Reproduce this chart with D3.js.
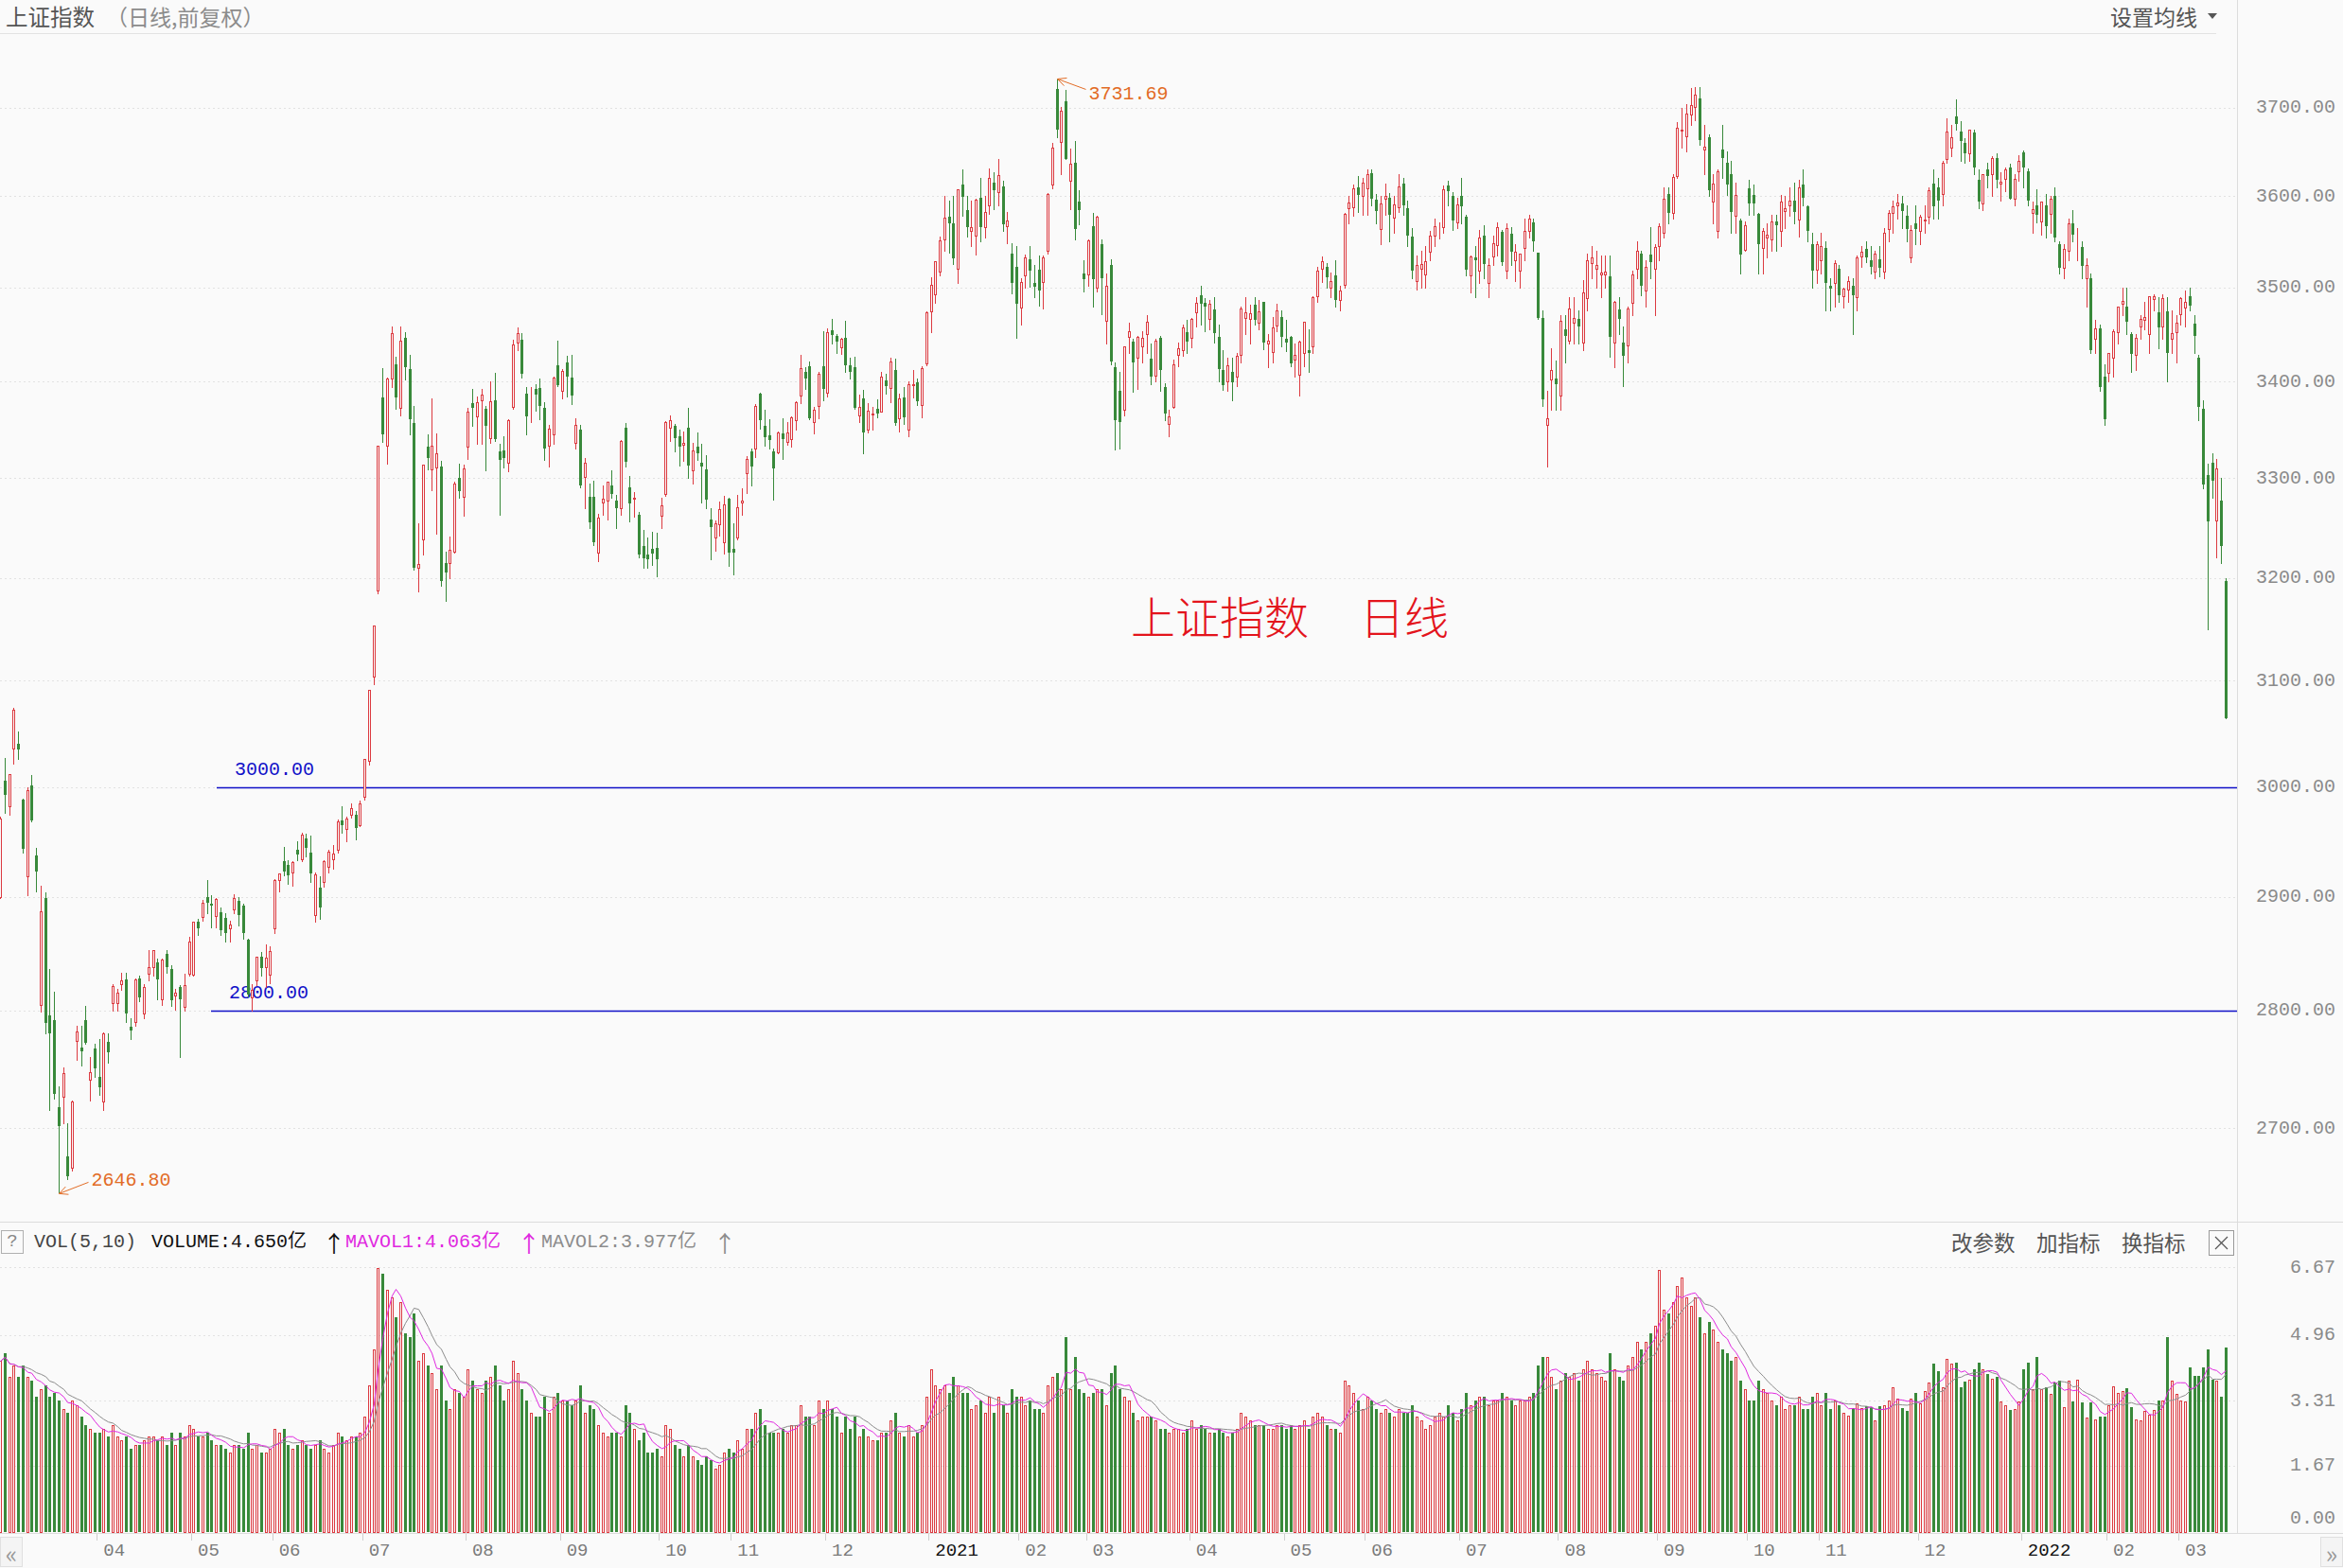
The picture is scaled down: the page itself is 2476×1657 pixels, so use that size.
<!DOCTYPE html>
<html>
<head>
<meta charset="utf-8">
<script src="https://cdn.jsdelivr.net/npm/d3@7"></script>
<style>
  html, body { margin: 0; padding: 0; background: #fafafa; }
  svg { display: block; }
</style>
</head>
<body>
<svg id="chart" width="2476" height="1657"></svg>
<script>
// ---- data: 上证指数 daily candles [open, high, low, close], 2020-03-02 .. 2022-03-15
const monthLabels = ['03','04','05','06','07','08','09','10','11','12','2021','02','03','04','05','06','07','08','09','10','11','12','2022','02','03'];
const monthDays   = [22,21,18,20,23,21,22,16,21,23,20,15,23,21,18,21,22,22,20,16,22,23,19,16,11];

const k2020 = [
  [2900,2973,2899,2971],[3006,3027,2976,2993],[2982,3012,2974,3012],[3036,3074,3022,3072],[3040,3052,3026,3035],
  [2988,2989,2940,2943],[2918,3000,2901,2997],[3001,3011,2968,2969],[2937,2944,2905,2923],[2805,2910,2799,2887],
  [2899,2904,2780,2789],[2796,2836,2715,2780],[2792,2816,2725,2729],[2718,2735,2646.80,2702],[2726,2751,2704,2746],
  [2677,2704,2658,2660],[2667,2723,2665,2722],[2774,2787,2758,2782],[2768,2787,2753,2765],[2792,2804,2771,2772],
  [2741,2760,2723,2747],[2767,2771,2743,2750],
  [2743,2775,2728,2734],[2722,2781,2715,2780],[2773,2780,2755,2764],[2806,2823,2800,2821],[2806,2819,2800,2815],
  [2823,2833,2818,2826],[2827,2833,2790,2797],[2786,2793,2775,2783],[2790,2828,2787,2827],[2828,2830,2808,2811],
  [2797,2823,2793,2820],[2832,2853,2826,2838],[2838,2853,2830,2853],[2842,2845,2810,2827],[2810,2845,2805,2844],
  [2849,2853,2833,2838],[2836,2839,2804,2809],[2813,2819,2801,2815],[2820,2822,2760,2810],[2803,2832,2800,2822],
  [2832,2864,2830,2860],
  [2831,2878,2830,2878],[2878,2880,2866,2872],[2882,2897,2879,2895],[2900,2915,2885,2895],[2894,2901,2873,2892],
  [2883,2899,2873,2898],[2886,2890,2866,2870],[2881,2885,2860,2868],[2872,2879,2860,2875],[2889,2902,2885,2899],
  [2896,2900,2874,2884],[2892,2894,2863,2868],[2862,2863,2812,2814],[2811,2823,2800,2818],[2826,2847,2822,2847],
  [2847,2851,2830,2837],[2838,2858,2820,2846],[2831,2856,2824,2852],
  [2872,2916,2868,2915],[2915,2921,2905,2921],[2932,2945,2919,2923],[2929,2933,2912,2919],[2922,2932,2910,2931],
  [2942,2950,2933,2938],[2934,2958,2932,2956],[2953,2957,2936,2944],[2940,2955,2913,2921],[2884,2922,2878,2920],
  [2908,2918,2880,2890],[2913,2933,2909,2932],[2927,2942,2922,2941],[2934,2947,2925,2939],[2942,2970,2940,2968],
  [2969,2982,2958,2965],[2961,2973,2950,2971],[2974,2985,2972,2980],[2974,2978,2952,2962],[2965,2987,2964,2985],
  [2991,3026,2988,3026],[3024,3091,3021,3091],[3104,3153,3097,3153],[3188,3333,3185,3333],[3383,3414,3337,3345],
  [3333,3404,3315,3403],[3403,3458,3394,3451],[3418,3426,3371,3383],[3372,3458,3365,3443],[3446,3452,3402,3415],
  [3413,3428,3345,3361],[3357,3374,3208,3210],[3210,3254,3187,3214],[3238,3314,3223,3314],[3332,3345,3309,3321],
  [3309,3382,3288,3333],[3311,3346,3244,3325],[3312,3318,3192,3197],[3215,3226,3177,3205],[3215,3241,3200,3228],
  [3226,3296,3225,3295],[3300,3315,3280,3287],[3281,3314,3262,3310],
  [3332,3372,3320,3368],[3377,3392,3354,3372],[3364,3384,3335,3378],[3380,3392,3335,3386],[3371,3374,3308,3354],
  [3341,3400,3336,3379],[3380,3409,3338,3340],[3327,3335,3263,3319],[3328,3343,3311,3321],[3316,3361,3307,3360],
  [3373,3444,3371,3439],[3441,3457,3433,3451],[3444,3451,3404,3408],[3387,3394,3345,3364],[3381,3394,3358,3381],
  [3392,3397,3369,3386],[3393,3403,3361,3374],[3372,3378,3319,3330],[3333,3355,3312,3351],[3345,3405,3335,3404],
  [3417,3443,3395,3396],
  [3390,3413,3382,3411],[3420,3427,3384,3405],[3404,3428,3376,3385],[3336,3362,3330,3355],[3350,3355,3291,3293],
  [3301,3321,3270,3316],[3281,3295,3250,3255],[3281,3297,3233,3235],[3225,3264,3217,3260],[3275,3293,3263,3279],
  [3277,3296,3258,3296],[3293,3308,3280,3284],[3277,3283,3250,3270],[3270,3339,3263,3338],[3352,3357,3312,3317],
  [3291,3302,3256,3274],[3279,3286,3261,3280],[3263,3266,3220,3223],[3232,3248,3210,3219],[3223,3240,3210,3218],
  [3229,3246,3213,3224],[3230,3245,3202,3218],
  [3262,3280,3250,3272],[3284,3359,3282,3358],[3352,3365,3338,3360],[3354,3356,3327,3341],[3343,3350,3313,3332],
  [3334,3348,3318,3336],[3352,3372,3300,3313],[3308,3336,3295,3328],[3332,3347,3319,3325],[3316,3335,3275,3312],
  [3309,3324,3270,3278],[3258,3270,3218,3251],[3240,3257,3227,3254],[3253,3276,3242,3269],[3235,3282,3224,3273],
  [3279,3280,3212,3225],
  [3229,3254,3203,3225],[3240,3283,3238,3271],[3275,3290,3263,3277],[3305,3323,3285,3320],[3327,3330,3293,3312],
  [3330,3376,3322,3374],[3387,3388,3351,3360],[3354,3370,3333,3342],[3344,3361,3330,3339],[3327,3330,3278,3310],
  [3326,3348,3325,3347],[3346,3362,3320,3340],[3337,3358,3334,3347],[3340,3364,3332,3363],[3360,3379,3350,3378],
  [3385,3428,3377,3414],[3410,3415,3392,3403],[3416,3421,3361,3362],[3358,3373,3346,3370],[3374,3410,3362,3408],
  [3416,3453,3380,3392],
  [3388,3456,3384,3452],[3454,3466,3440,3449],[3448,3450,3430,3442],[3436,3446,3429,3445],[3446,3464,3410,3417],
  [3417,3425,3403,3410],[3415,3426,3371,3372],[3365,3386,3358,3373],[3382,3391,3325,3347],[3350,3377,3347,3369],
  [3366,3373,3350,3367],[3371,3381,3363,3367],[3368,3410,3368,3405],[3401,3408,3387,3395],[3393,3425,3378,3421],
  [3412,3424,3355,3357],[3362,3387,3348,3382],[3383,3394,3356,3363],[3350,3400,3343,3397],[3396,3412,3383,3397],
  [3399,3403,3375,3379],[3375,3416,3363,3414],[3419,3474,3417,3473]
];

const k2021 = [
  [3474,3511,3452,3503],[3493,3529,3484,3529],[3517,3556,3513,3551],[3552,3600,3540,3576],[3577,3595,3538,3570],
  [3570,3600,3526,3532],[3520,3608,3505,3608],[3613,3630,3578,3599],[3585,3600,3556,3566],[3562,3595,3545,3566],
  [3557,3597,3536,3596],[3598,3620,3550,3566],[3566,3600,3555,3583],[3590,3631,3581,3621],[3615,3627,3586,3607],
  [3605,3642,3590,3624],[3611,3617,3562,3569],[3567,3583,3548,3573],[3537,3548,3494,3505],[3522,3545,3446,3483],
  [3478,3510,3460,3506],[3513,3536,3500,3533],[3531,3545,3501,3518],[3505,3525,3490,3501],[3519,3535,3481,3497],
  [3506,3535,3477,3533],[3540,3604,3537,3603],[3613,3660,3609,3655],[3721,3731.69,3666,3675],[3661,3701,3625,3696],
  [3707,3720,3642,3642],[3617,3653,3586,3636],[3637,3662,3552,3564],[3594,3607,3569,3585],[3515,3530,3496,3509],
  [3514,3552,3502,3551],[3567,3582,3480,3509],[3500,3578,3496,3577],[3547,3552,3471,3510],[3464,3515,3440,3502],
  [3525,3531,3418,3421],[3415,3420,3329,3360],[3390,3410,3330,3358],[3370,3437,3365,3437],[3447,3462,3430,3453],
  [3442,3445,3389,3420],[3425,3448,3392,3447],[3437,3453,3420,3446],[3450,3470,3430,3463],[3424,3440,3397,3405],
  [3406,3445,3400,3443],[3446,3448,3390,3412],[3394,3398,3360,3367],[3356,3370,3343,3364],[3373,3423,3372,3418],
  [3428,3441,3416,3435],[3433,3460,3427,3457],[3452,3465,3430,3442],
  [3446,3467,3436,3466],[3473,3490,3458,3484],[3492,3502,3460,3483],[3484,3489,3453,3480],[3466,3487,3455,3483],
  [3476,3490,3441,3451],[3447,3460,3400,3413],[3412,3433,3391,3396],[3400,3425,3390,3417],[3410,3425,3380,3399],
  [3405,3430,3395,3427],[3428,3480,3420,3477],[3467,3490,3450,3473],[3466,3482,3440,3472],[3482,3490,3460,3465],
  [3462,3487,3455,3474],[3485,3485,3434,3441],[3440,3450,3415,3443],[3431,3468,3420,3457],[3459,3483,3453,3475],
  [3468,3475,3437,3447],
  [3445,3465,3432,3441],[3447,3448,3416,3419],[3423,3440,3405,3428],[3407,3443,3385,3442],[3430,3463,3416,3463],
  [3433,3455,3410,3430],[3437,3491,3430,3490],[3491,3522,3485,3518],[3520,3534,3506,3529],[3522,3527,3500,3511],
  [3500,3516,3490,3507],[3513,3530,3480,3487],[3487,3502,3475,3497],[3503,3582,3500,3581],[3587,3600,3570,3593],
  [3588,3613,3578,3609],[3610,3623,3583,3601],[3600,3620,3580,3615],
  [3609,3630,3580,3625],[3626,3630,3590,3597],[3596,3603,3570,3584],[3564,3600,3547,3592],[3597,3614,3580,3600],
  [3598,3604,3550,3580],[3576,3600,3560,3591],[3588,3625,3583,3611],[3614,3620,3580,3590],[3587,3595,3545,3557],
  [3556,3565,3510,3518],[3507,3535,3498,3525],[3520,3540,3500,3526],[3514,3545,3500,3529],[3539,3562,3530,3557],
  [3557,3575,3545,3567],[3566,3571,3553,3566],[3566,3612,3560,3608],[3612,3617,3590,3606],[3600,3605,3563,3573],
  [3571,3598,3565,3591],
  [3600,3620,3570,3589],[3577,3580,3513,3519],[3513,3535,3495,3534],[3533,3545,3490,3530],[3518,3563,3505,3554],
  [3557,3568,3510,3526],[3505,3532,3490,3524],[3534,3557,3525,3548],[3546,3571,3535,3566],[3561,3563,3525,3528],
  [3518,3570,3510,3565],[3559,3566,3525,3539],[3530,3547,3507,3539],[3518,3537,3500,3537],[3543,3575,3530,3562],
  [3562,3580,3555,3575],[3571,3575,3540,3550],[3538,3538,3466,3467],[3467,3475,3374,3381],[3355,3390,3312,3362],
  [3402,3435,3370,3412],[3403,3422,3370,3397],
  [3385,3470,3370,3464],[3455,3470,3420,3448],[3443,3490,3440,3477],[3462,3490,3440,3467],[3466,3475,3440,3458],
  [3441,3508,3433,3495],[3489,3537,3475,3530],[3527,3545,3510,3533],[3520,3540,3500,3525],[3514,3535,3490,3516],
  [3514,3535,3500,3517],[3512,3535,3426,3447],[3441,3486,3415,3485],[3476,3490,3450,3466],[3441,3458,3395,3427],
  [3438,3480,3420,3477],[3484,3518,3470,3514],[3520,3550,3510,3540],[3537,3540,3492,3502],[3497,3530,3480,3522],
  [3536,3566,3510,3528],[3520,3547,3470,3544],
  [3545,3570,3530,3567],[3560,3610,3555,3597],[3603,3610,3570,3582],[3582,3625,3575,3622],[3623,3683,3620,3677],
  [3674,3700,3655,3675],[3667,3704,3650,3693],[3692,3722,3680,3703],[3701,3723,3686,3715],[3710,3723,3658,3663],
  [3652,3680,3625,3656],[3666,3670,3600,3607],[3594,3625,3570,3614],[3562,3630,3555,3628],[3652,3680,3620,3643],
  [3638,3650,3601,3613],[3625,3640,3560,3583],[3578,3615,3560,3602],[3573,3575,3515,3536],[3541,3572,3540,3568],
  [3609,3618,3580,3592],[3601,3613,3580,3592],[3581,3582,3515,3547],[3543,3565,3515,3562],[3555,3570,3533,3558],
  [3552,3580,3540,3572],[3572,3580,3540,3568],[3562,3601,3545,3594],[3584,3600,3565,3587],[3590,3610,3578,3595],
  [3595,3615,3570,3583],[3574,3618,3556,3610],[3613,3630,3590,3598],[3589,3590,3550,3562],[3547,3560,3500,3518],
  [3519,3550,3505,3547],
  [3530,3560,3515,3545],[3543,3550,3475,3505],[3502,3510,3475,3499],[3505,3530,3480,3527],[3520,3525,3485,3492],
  [3491,3500,3478,3499],[3498,3512,3485,3507],[3502,3510,3450,3492],[3490,3535,3475,3533],[3534,3545,3522,3539],
  [3542,3550,3528,3533],[3530,3545,3515,3522],[3517,3540,3510,3537],[3531,3545,3512,3521],[3517,3565,3510,3560],
  [3564,3585,3550,3582],[3582,3595,3560,3589],[3590,3603,3575,3593],[3592,3600,3565,3584],[3578,3590,3550,3564],
  [3533,3568,3528,3563],[3570,3590,3547,3564],
  [3562,3580,3547,3577],[3573,3590,3560,3574],[3577,3610,3570,3607],[3614,3630,3575,3589],[3610,3620,3575,3595],
  [3603,3640,3590,3638],[3642,3688,3638,3673],[3655,3680,3645,3666],[3690,3709,3675,3681],[3673,3685,3640,3662],
  [3660,3665,3638,3648],[3648,3675,3640,3675],[3672,3675,3625,3632],[3618,3630,3587,3594],[3592,3625,3585,3625],
  [3630,3637,3610,3623],[3625,3645,3600,3643],[3643,3648,3610,3618],[3614,3627,3595,3616],[3619,3632,3606,3630],
  [3632,3636,3597,3597],[3597,3625,3590,3619],[3628,3646,3617,3640]
];

const k2022 = [
  [3649,3651,3610,3632],[3628,3631,3590,3595],[3582,3594,3560,3586],[3590,3608,3571,3580],[3572,3594,3558,3594],
  [3590,3603,3555,3567],[3581,3600,3560,3597],[3600,3610,3550,3555],[3547,3550,3515,3521],[3521,3547,3510,3542],
  [3540,3575,3530,3570],[3570,3585,3550,3558],[3555,3565,3530,3555],[3544,3550,3510,3523],[3510,3532,3480,3524],
  [3510,3515,3430,3433],[3445,3465,3430,3456],[3456,3460,3390,3394],[3405,3418,3355,3361],
  [3409,3430,3400,3430],[3425,3455,3405,3453],[3452,3480,3440,3480],[3483,3500,3470,3486],[3480,3500,3450,3463],
  [3450,3452,3410,3429],[3428,3450,3412,3446],[3458,3470,3445,3466],[3465,3485,3455,3468],[3450,3491,3430,3491],
  [3488,3493,3475,3491],[3473,3490,3435,3457],[3458,3493,3445,3489],[3474,3490,3400,3430],[3445,3475,3430,3451],
  [3452,3470,3420,3462],
  [3471,3490,3460,3489],[3478,3497,3458,3485],[3491,3500,3475,3481],[3461,3470,3430,3448],[3425,3428,3360,3373],
  [3371,3380,3290,3294],[3303,3315,3150,3256],[3316,3325,3280,3297],[3257,3320,3220,3310],[3277,3300,3215,3232],
  [3197,3200,3064,3064]
];

// daily volume, 亿
const vol2020 = [
  4.3,4.5,3.9,4.2,3.9,4.2,3.9,3.8,3.4,3.6,3.7,3.4,3.5,3.3,3.1,3.0,3.3,3.2,2.9,2.7,2.6,2.5,
  2.5,2.6,2.4,2.7,2.4,2.3,2.4,2.1,2.2,2.2,2.3,2.4,2.4,2.3,2.4,2.2,2.5,2.2,2.5,2.4,2.7,
  2.6,2.4,2.4,2.5,2.3,2.2,2.2,2.1,2.0,2.2,2.2,2.1,2.5,2.1,2.2,2.0,2.0,2.1,
  2.6,2.5,2.6,2.2,2.1,2.2,2.3,2.2,2.1,2.2,2.3,2.1,2.0,2.2,2.5,2.4,2.3,2.4,2.4,2.5,
  2.9,3.7,4.6,6.65,6.5,6.1,5.9,5.4,5.8,5.0,4.9,5.5,4.3,4.5,4.2,4.0,3.6,4.2,3.3,3.1,3.6,3.5,3.4,
  4.1,3.8,3.6,3.5,3.8,3.9,4.2,3.7,3.3,3.6,4.3,4.0,3.6,3.3,3.0,2.9,2.9,3.4,3.0,3.4,3.5,
  3.3,3.3,3.2,3.3,3.7,3.0,3.2,3.1,2.7,2.5,2.4,2.5,2.5,2.4,3.2,3.0,2.6,2.3,2.5,2.0,2.0,2.1,
  1.9,2.7,2.6,2.2,2.1,1.9,2.2,1.9,1.8,1.7,1.9,1.8,1.6,1.7,2.0,2.1,
  2.0,2.3,2.1,2.6,2.6,3.0,3.1,2.7,2.5,2.5,2.5,2.6,2.5,2.7,2.7,3.2,2.9,2.9,2.7,3.3,3.1,
  3.3,3.1,2.9,2.5,2.9,2.6,2.9,2.4,2.6,2.4,2.3,2.3,2.5,2.5,2.8,3.0,2.5,2.4,2.7,2.4,2.5,2.7,3.4
];
const vol2021 = [
  4.1,3.7,3.6,3.7,3.5,3.9,3.7,3.5,3.5,3.1,3.2,3.3,3.0,3.4,3.0,3.4,3.2,3.0,3.6,3.4,
  3.4,3.2,3.3,3.1,3.1,3.0,3.7,3.9,4.0,3.6,4.9,3.6,4.4,3.6,3.5,
  3.4,3.5,3.6,3.6,3.2,4.0,4.2,3.6,3.4,3.3,3.0,2.8,2.9,2.9,2.9,2.8,2.6,2.6,2.5,2.6,2.6,2.5,2.6,
  2.8,2.6,2.7,2.6,2.5,2.5,2.6,2.5,2.4,2.5,2.6,3.0,2.9,2.8,2.7,2.7,2.7,2.6,2.6,2.7,2.7,
  2.6,2.7,2.6,2.7,2.8,2.6,2.9,3.0,2.9,2.7,2.6,2.6,2.5,3.8,3.7,3.5,3.3,3.1,
  3.4,3.3,3.1,3.0,3.1,3.0,2.9,3.1,3.0,3.0,3.2,2.9,2.8,2.6,2.7,2.9,3.0,2.9,3.2,3.0,2.8,
  3.1,3.5,3.2,3.3,3.4,3.4,3.2,3.3,3.3,3.5,3.4,3.3,3.2,3.3,3.3,3.4,3.5,4.2,4.4,4.4,3.9,3.6,
  3.8,4.0,3.9,4.0,3.8,4.1,4.3,4.1,4.0,3.9,3.8,4.5,4.1,3.9,3.8,4.2,4.4,4.8,4.6,4.8,5.0,5.2,
  6.6,5.6,5.5,5.8,6.2,6.4,5.9,5.7,5.9,5.4,5.0,5.3,5.1,4.8,4.6,4.5,4.3,4.4,3.8,3.6,
  3.3,3.3,3.8,3.6,3.5,3.3,3.2,3.4,3.1,3.2,3.2,3.4,3.1,3.1,3.4,3.5,
  3.2,3.5,3.1,3.3,3.2,3.0,2.92,3.12,3.24,3.12,3.16,3.14,2.8,3.16,3.2,3.3,3.64,3.36,3.12,3.04,3.36,3.5,
  3.25,3.54,3.76,4.23,4.06,3.64,4.35,4.23,4.27,3.65,3.78,3.84,4.1,4.27,4.1,3.98,3.86,3.9,3.28,3.2,3.08,3.1,3.28
];
const vol2022 = [
  4.09,4.27,3.6,4.4,3.6,3.65,3.48,3.76,3.8,3.15,3.8,3.28,3.83,3.27,2.88,3.27,2.84,2.9,2.9,
  3.2,3.66,3.5,3.55,3.62,3.14,2.84,2.82,3.05,2.95,3.07,3.3,3.3,4.91,3.8,3.48,
  3.3,3.295,4.15,3.93,3.93,4.15,4.6,3.83,3.82,3.415,4.65
];

const priceTicks = [2700, 2800, 2900, 3000, 3100, 3200, 3300, 3400, 3500, 3600, 3700];
const volTicks = [0, 1.67, 3.31, 4.96, 6.67];
const levelValues = [3000, 2800];

// ---- layout
const W = 2476, H = 1657;
const AXIS_X = 2364;
const BG = '#fafafa';
const RED = '#dc3a40', GREEN = '#38893a', BLUE = '#1010c8', ORANGE = '#e26c26', MAGENTA = '#e028e0';
const MONO = '"Liberation Mono", "Noto Sans CJK SC", monospace';
const CJK = '"Noto Sans CJK SC", "Noto Sans", sans-serif';
const levelStartX = [229, 223];

const svg = d3.select('#chart');
svg.append('rect').attr('width', W).attr('height', H).attr('fill', BG);

const candles = k2020.concat(k2021, k2022);
const volumes = vol2020.concat(vol2021, vol2022);
const n = candles.length;

const step = 4.751;
const x = d3.scaleBand().domain(d3.range(n)).range([0.2 - step / 2, 0.2 + step * (n - 0.5)]);
const cx = i => Math.round(x(i) + x.bandwidth() / 2);

const y = d3.scaleLog().domain([2624, 3786]).range([1290, 35]);
const yv = d3.scaleLinear().domain([0, 6.67]).range([1619, 1339]);

const up = d => d[3] >= d[0];

// ---- frame lines
const frame = svg.append('g').attr('shape-rendering', 'crispEdges').attr('stroke', '#e2e2e2');
frame.append('line').attr('x1', 0).attr('x2', 2342).attr('y1', 35.5).attr('y2', 35.5);
frame.append('line').attr('x1', 0).attr('x2', W).attr('y1', 1291.5).attr('y2', 1291.5).attr('stroke', '#dcdcdc');
frame.append('line').attr('x1', 0).attr('x2', W).attr('y1', 1620.5).attr('y2', 1620.5).attr('stroke', '#dcdcdc');
frame.append('line').attr('x1', AXIS_X + 0.5).attr('x2', AXIS_X + 0.5).attr('y1', 0).attr('y2', 1621).attr('stroke', '#dcdcdc');

// ---- grid
const grid = svg.append('g').attr('shape-rendering', 'crispEdges')
  .attr('stroke', '#e2e2e2').attr('stroke-dasharray', '2,3');
grid.selectAll('line.pg').data(priceTicks).join('line')
  .attr('x1', 0).attr('x2', AXIS_X)
  .attr('y1', d => Math.round(y(d)) + 0.5).attr('y2', d => Math.round(y(d)) + 0.5);
grid.selectAll('line.vg').data(volTicks.filter(v => v > 0)).join('line')
  .attr('x1', 0).attr('x2', AXIS_X)
  .attr('y1', d => Math.round(yv(d)) + 0.5).attr('y2', d => Math.round(yv(d)) + 0.5);

// ---- price axis labels
svg.append('g').selectAll('text').data(priceTicks).join('text')
  .attr('x', 2468).attr('y', d => y(d))
  .attr('text-anchor', 'end').attr('dominant-baseline', 'central')
  .attr('font-family', MONO).attr('font-size', 20).attr('fill', '#8a8a8a')
  .text(d => d.toFixed(2));

// ---- volume axis labels
svg.append('g').selectAll('text').data(volTicks).join('text')
  .attr('x', 2468).attr('y', d => d === 0 ? yv(d) - 15 : yv(d))
  .attr('text-anchor', 'end').attr('dominant-baseline', 'central')
  .attr('font-family', MONO).attr('font-size', 20).attr('fill', '#8a8a8a')
  .text(d => d.toFixed(2));

// ---- level lines (3000 / 2800)
const lv = svg.append('g');
lv.selectAll('line').data(levelValues).join('line')
  .attr('x1', (d, i) => levelStartX[i]).attr('x2', AXIS_X)
  .attr('y1', d => Math.round(y(d)) + 0.5).attr('y2', d => Math.round(y(d)) + 0.5)
  .attr('stroke', BLUE).attr('stroke-width', 1.6);
lv.selectAll('text').data(levelValues).join('text')
  .attr('x', (d, i) => levelStartX[i] + 19).attr('y', d => y(d) - 18)
  .attr('dominant-baseline', 'central')
  .attr('font-family', MONO).attr('font-size', 20).attr('fill', BLUE)
  .text(d => d.toFixed(2));

// ---- candles
const gk = svg.append('g').attr('shape-rendering', 'crispEdges');
gk.selectAll('line').data(candles).join('line')
  .attr('x1', (d, i) => cx(i) + 0.5).attr('x2', (d, i) => cx(i) + 0.5)
  .attr('y1', d => Math.round(y(Math.max(d[1], d[0], d[3]))))
  .attr('y2', d => Math.round(y(Math.min(d[2], d[0], d[3]))) + 1)
  .attr('stroke', d => up(d) ? RED : GREEN);

function bodyAttrs(sel, ys) {
  sel.attr('x', (d, i) => d.up ? cx(i) - 0.5 : cx(i) - 1)
    .attr('width', d => d.up ? 2 : 3)
    .attr('y', d => {
      const t = Math.round(ys(d.top));
      return d.up ? t + 0.5 : t;
    })
    .attr('height', d => {
      const t = Math.round(ys(d.top)), b = Math.round(ys(d.bot));
      return d.up ? Math.max(b - t, 0) : Math.max(b - t, 1);
    })
    .attr('fill', d => d.up ? BG : GREEN)
    .attr('stroke', d => d.up ? RED : 'none');
}
const bodies = candles.map(d => Object.assign([...d], { up: up(d), top: Math.max(d[0], d[3]), bot: Math.min(d[0], d[3]) }));
gk.selectAll('rect').data(bodies).join('rect').call(bodyAttrs, y);

// ---- volume bars
const vbars = volumes.map((v, i) => Object.assign([...candles[i]], { up: up(candles[i]), top: v, bot: 0 }));
svg.append('g').attr('shape-rendering', 'crispEdges')
  .selectAll('rect').data(vbars).join('rect').call(bodyAttrs, yv);

// ---- volume moving averages
const ma = (arr, p) => arr.map((v, i) => d3.mean(arr.slice(Math.max(0, i - p + 1), i + 1)));
const ma5 = ma(volumes, 5), ma10 = ma(volumes, 10);
const vline = d3.line().x((d, i) => cx(i) + 0.5).y(d => yv(d));
svg.append('path').datum(ma10).attr('d', vline).attr('fill', 'none').attr('stroke', '#8c8c8c').attr('stroke-width', 1);
svg.append('path').datum(ma5).attr('d', vline).attr('fill', 'none').attr('stroke', MAGENTA).attr('stroke-width', 1);

// ---- extremes annotations
const hiIdx = d3.maxIndex(candles, d => d[1]);
const loIdx = d3.minIndex(candles, d => d[2]);
function annotate(i, val, tip, dx, dy, ty) {
  const tx = cx(i) + 0.5;
  const ex = tx + dx, ey = tip + dy;
  const g = svg.append('g').attr('stroke', ORANGE).attr('fill', 'none').attr('stroke-width', 1);
  g.append('line').attr('x1', tx).attr('y1', tip).attr('x2', ex).attr('y2', ey);
  const ang = Math.atan2(dy, dx);
  [-0.45, 0.45].forEach(a => {
    g.append('line').attr('x1', tx).attr('y1', tip)
      .attr('x2', tx + 10 * Math.cos(ang + a)).attr('y2', tip + 10 * Math.sin(ang + a));
  });
  svg.append('text').attr('x', ex + 3).attr('y', ey + ty).attr('dominant-baseline', 'central')
    .attr('font-family', MONO).attr('font-size', 20).attr('fill', ORANGE)
    .text(val.toFixed(2));
}
annotate(hiIdx, candles[hiIdx][1], y(candles[hiIdx][1]) - 1, 30, 11, 5);
annotate(loIdx, candles[loIdx][2], y(candles[loIdx][2]) + 1, 31, -12, -2);

// ---- x axis: month ticks
const monthStarts = monthDays.map((d, k) => d3.sum(monthDays.slice(0, k)));
const months = monthLabels.map((label, k) => ({ label, idx: monthStarts[k] })).slice(1);
const xa = svg.append('g');
xa.selectAll('line').data(months).join('line')
  .attr('shape-rendering', 'crispEdges')
  .attr('x1', d => Math.round(x(d.idx)) + 0.5).attr('x2', d => Math.round(x(d.idx)) + 0.5)
  .attr('y1', 1621).attr('y2', 1628).attr('stroke', '#cfcfcf');
xa.selectAll('text').data(months).join('text')
  .attr('x', d => x(d.idx) + 7).attr('y', 1639)
  .attr('dominant-baseline', 'central')
  .attr('font-family', MONO).attr('font-size', 19)
  .attr('fill', d => d.label.length === 4 ? '#111' : '#7a7a7a')
  .text(d => d.label);

// scroll buttons
[[0, '«'], [2452, '»']].forEach(([bx, s]) => {
  svg.append('rect').attr('x', bx + 0.5).attr('y', 1624.5).attr('width', 23).attr('height', 31)
    .attr('fill', '#f4f4f4').attr('stroke', '#e0e0e0');
  svg.append('text').attr('x', bx + 12).attr('y', 1640).attr('text-anchor', 'middle')
    .attr('dominant-baseline', 'central').attr('font-family', CJK).attr('font-size', 26)
    .attr('fill', '#999').text(s);
});

// ---- header texts
svg.append('text').attr('x', 6).attr('y', 17).attr('dominant-baseline', 'central')
  .attr('font-family', CJK).attr('font-size', 23.5).attr('fill', '#555').text('上证指数');
svg.append('text').attr('x', 112).attr('y', 17).attr('dominant-baseline', 'central')
  .attr('font-family', CJK).attr('font-size', 23).attr('fill', '#8c8c8c').text('（日线,前复权）');
svg.append('text').attr('x', 2230).attr('y', 17).attr('dominant-baseline', 'central')
  .attr('font-family', CJK).attr('font-size', 23).attr('fill', '#555').text('设置均线');
svg.append('path').attr('d', 'M2333,14 L2343,14 L2338,20 Z').attr('fill', '#555');

// big red title
svg.append('text').attr('x', 1195).attr('y', 649).attr('dominant-baseline', 'central')
  .attr('font-family', CJK).attr('font-weight', 300).attr('font-size', 47).attr('fill', '#e3141c').text('上证指数');
svg.append('text').attr('x', 1437).attr('y', 649).attr('dominant-baseline', 'central')
  .attr('font-family', CJK).attr('font-weight', 300).attr('font-size', 47).attr('fill', '#e3141c').text('日线');

// ---- volume header
const vh = 1312;
svg.append('rect').attr('x', 1.5).attr('y', 1300.5).attr('width', 23).attr('height', 24)
  .attr('fill', 'none').attr('stroke', '#b0b0b0');
svg.append('text').attr('x', 13).attr('y', vh).attr('text-anchor', 'middle').attr('dominant-baseline', 'central')
  .attr('font-family', MONO).attr('font-size', 19).attr('fill', '#888').text('?');
const headerItems = [
  { x: 36,  text: 'VOL(5,10)', fill: '#444' },
  { x: 160, text: 'VOLUME:' + volumes[n - 1].toFixed(3) + '亿', fill: '#111' },
  { x: 341, text: '↑', fill: '#111' },
  { x: 365, text: 'MAVOL1:' + ma5[n - 1].toFixed(3) + '亿', fill: MAGENTA },
  { x: 547, text: '↑', fill: MAGENTA },
  { x: 572, text: 'MAVOL2:' + ma10[n - 1].toFixed(3) + '亿', fill: '#8c8c8c' },
  { x: 754, text: '↑', fill: '#8c8c8c' }
];
svg.append('g').selectAll('text').data(headerItems).join('text')
  .attr('x', d => d.x).attr('y', vh).attr('dominant-baseline', 'central')
  .attr('font-family', d => d.text === '↑' ? CJK : MONO)
  .attr('font-size', d => d.text === '↑' ? 24 : 20).attr('fill', d => d.fill)
  .text(d => d.text);

const tools = [{ x: 2062, t: '改参数' }, { x: 2152, t: '加指标' }, { x: 2242, t: '换指标' }];
svg.append('g').selectAll('text').data(tools).join('text')
  .attr('x', d => d.x).attr('y', vh).attr('dominant-baseline', 'central')
  .attr('font-family', CJK).attr('font-size', 22.5).attr('fill', '#555').text(d => d.t);
svg.append('rect').attr('x', 2334.5).attr('y', 1300.5).attr('width', 26).attr('height', 26)
  .attr('fill', '#fafafa').attr('stroke', '#999');
svg.append('path').attr('d', 'M2341,1307 L2354,1320 M2354,1307 L2341,1320')
  .attr('stroke', '#555').attr('stroke-width', 1.2);
</script>
</body>
</html>
